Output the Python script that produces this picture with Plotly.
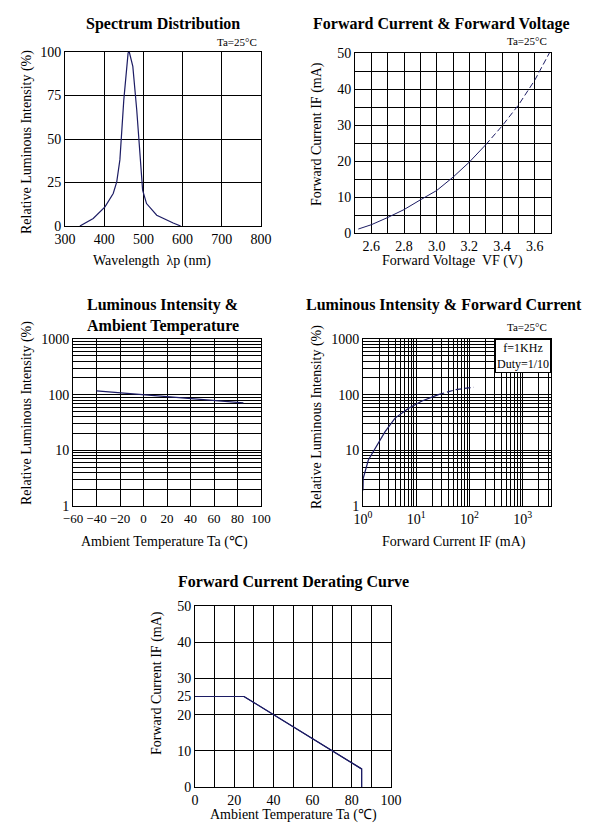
import plotly.graph_objects as go

W, H = 607, 824
OFF = 8  # page body margin offset of the plot div

# ---------------- data ----------------
spec_wl = [338, 372, 402, 423, 432, 440, 450, 461, 464, 473, 483, 491, 498, 508, 534, 576, 595]
spec_int = [0, 4.3, 11, 18.7, 25.4, 38, 72.5, 99.5, 100, 91.7, 66.7, 39.8, 20.6, 12.9, 6.2, 1.7, 0]

vf_solid = [2.52, 2.6, 2.7, 2.8, 2.9, 3.0, 3.1, 3.2, 3.3]
if_solid = [1.1, 2.3, 4.3, 6.5, 9.2, 11.8, 15.5, 19.7, 24.5]
vf_dash = [3.3, 3.4, 3.5, 3.6, 3.69]
if_dash = [24.5, 29.7, 35.5, 42.4, 50]

temp_c = [-40, -20, 0, 20, 40, 60, 85]
li_temp = [117, 108, 100, 93, 84, 78, 71]

if_ma_solid = [1.0, 1.01, 1.26, 1.68, 2.6, 4.0, 7.2, 12.8, 26]
li_if_solid = [1.9, 3.15, 6.7, 10.9, 21.7, 38, 57, 77, 100]
if_ma_dash = [26, 55, 120]
li_if_dash = [100, 123, 136]

derate_t = [0, 25, 85, 85]
derate_if = [25, 25, 5, 0]

log_ticks = [1, 10, 100, 1000]
log_x_text = ["10<sup>0</sup>", "10<sup>1</sup>", "10<sup>2</sup>", "10<sup>3</sup>"]
log_y_text = ["1", "10", "100", "1000"]
derate_yticks = [0, 10, 20, 25, 30, 40, 50]

# ---------------- style ----------------
FONT = "Liberation Serif"
LINE = "#1c1c64"
GRID = "black"


def dx(a, b):
    return [(a - OFF) / W, (b - OFF) / W]


def dy(top, bot):
    return [1 - (bot - OFF) / H, 1 - (top - OFF) / H]


fig = go.Figure()

fig.add_trace(go.Scatter(x=spec_wl, y=spec_int, mode="lines", line=dict(color=LINE, width=1.2),
                         xaxis="x", yaxis="y", showlegend=False))
fig.add_trace(go.Scatter(x=vf_solid, y=if_solid, mode="lines", line=dict(color=LINE, width=1),
                         xaxis="x2", yaxis="y2", showlegend=False))
fig.add_trace(go.Scatter(x=vf_dash, y=if_dash, mode="lines", line=dict(color=LINE, width=1, dash="6px,3px"),
                         xaxis="x2", yaxis="y2", showlegend=False))
fig.add_trace(go.Scatter(x=temp_c, y=li_temp, mode="lines", line=dict(color=LINE, width=1.2),
                         xaxis="x3", yaxis="y3", showlegend=False))
fig.add_trace(go.Scatter(x=if_ma_solid, y=li_if_solid, mode="lines", line=dict(color=LINE, width=1.2),
                         xaxis="x4", yaxis="y4", showlegend=False))
fig.add_trace(go.Scatter(x=if_ma_dash, y=li_if_dash, mode="lines", line=dict(color=LINE, width=1.2, dash="6px,3px"),
                         xaxis="x4", yaxis="y4", showlegend=False))
# derating curve: drawn on the grid axis and on the label axis (same scale, coincident)
fig.add_trace(go.Scatter(x=derate_t, y=derate_if, mode="lines", line=dict(color=LINE, width=1.2),
                         xaxis="x5", yaxis="y5", showlegend=False))
fig.add_trace(go.Scatter(x=derate_t, y=derate_if, mode="lines", line=dict(color=LINE, width=1.2),
                         xaxis="x5", yaxis="y6", showlegend=False))

common = dict(showline=True, linecolor="black", linewidth=1, mirror=True, ticks="",
              showgrid=True, gridcolor=GRID, gridwidth=1, zeroline=False, automargin=False,
              tickangle=0, tickfont=dict(family=FONT, size=14, color="black"), fixedrange=True)
minor_log = dict(dtick="D1", showgrid=True, gridcolor=GRID, gridwidth=1, ticks="")

fig.update_layout(
    width=W, height=H, margin=dict(l=0, r=0, t=0, b=0, pad=0, autoexpand=False),
    paper_bgcolor="white", plot_bgcolor="white", showlegend=False,
    font=dict(family=FONT, color="black"),
    # panel 1
    xaxis=dict(common, domain=dx(65, 261), range=[300, 800], dtick=100, anchor="y"),
    yaxis=dict(common, domain=dy(52, 226), range=[0, 100], dtick=25, anchor="x"),
    # panel 2
    xaxis2=dict(common, domain=dx(355, 551), range=[2.5, 3.7], tickvals=[2.6, 2.8, 3.0, 3.2, 3.4, 3.6],
                ticktext=["2.6", "2.8", "3.0", "3.2", "3.4", "3.6"], minor=dict(dtick=0.1, tick0=2.5, showgrid=True,
                gridcolor=GRID, gridwidth=1, ticks=""), anchor="y2"),
    yaxis2=dict(common, domain=dy(53, 233), range=[0, 50], dtick=10,
                minor=dict(dtick=5, showgrid=True, gridcolor=GRID, gridwidth=1, ticks=""), anchor="x2"),
    # panel 3
    xaxis3=dict(common, domain=dx(73, 261), range=[-60, 100], dtick=20, anchor="y3",
                tickfont=dict(family=FONT, size=13, color="black")),
    yaxis3=dict(common, type="log", domain=dy(339, 506), range=[0, 3], tickvals=log_ticks,
                ticktext=log_y_text, minor=minor_log, anchor="x3"),
    # panel 4
    xaxis4=dict(common, type="log", domain=dx(363, 551), range=[0, 3.53], tickvals=log_ticks,
                ticktext=log_x_text, minor=minor_log, anchor="y4"),
    yaxis4=dict(common, type="log", domain=dy(339, 506), range=[0, 3], tickvals=log_ticks,
                ticktext=log_y_text, minor=minor_log, anchor="x4"),
    # panel 5 (y5 = grid every 10, y6 = tick labels incl. 25)
    xaxis5=dict(common, domain=dx(195, 391), range=[0, 100], tickvals=[0, 20, 40, 60, 80, 100],
                minor=dict(dtick=10, showgrid=True, gridcolor=GRID, gridwidth=1, ticks=""), anchor="y5"),
    yaxis5=dict(common, domain=dy(606, 787), range=[0, 50], dtick=10, showticklabels=False, anchor="x5"),
    yaxis6=dict(common, domain=dy(606, 787), range=[0, 50], tickvals=derate_yticks, showgrid=False,
                overlaying="y5", anchor="x5", side="left"),
)


def ann(text, px, py, size=14, bold=False, angle=0, xanchor="center", **kw):
    fig.add_annotation(text=f"<b>{text}</b>" if bold else text, x=(px - OFF) / W, y=1 - (py - OFF) / H,
                       xref="paper", yref="paper", showarrow=False, xanchor=xanchor, yanchor="middle",
                       textangle=angle, font=dict(family=FONT, size=size, color="black"), **kw)


# titles
ann("Spectrum Distribution", 162.5, 24, size=16, bold=True)
ann("Forward Current &amp; Forward Voltage", 441, 24, size=16, bold=True)
ann("Luminous Intensity &amp;", 162.5, 305, size=16, bold=True)
ann("Ambient Temperature", 162.5, 326, size=16, bold=True)
ann("Luminous Intensity &amp; Forward Current", 444, 305, size=16, bold=True)
ann("Forward Current Derating Curve", 293, 582, size=16, bold=True)

# Ta notes
ann("Ta=25°C", 259, 42, size=11, xanchor="right")
ann("Ta=25°C", 549, 41, size=11, xanchor="right")
ann("Ta=25°C", 549, 327, size=11, xanchor="right")

# axis titles
ann("Wavelength  λp (nm)", 152, 261)
ann("Relative Luminous Intensity (%)", 27, 142, angle=-90)
ann("Forward Voltage  VF (V)", 452, 261)
ann("Forward Current IF (mA)", 317, 134, angle=-90)
ann("Ambient Temperature Ta (℃)", 164, 542)
ann("Relative Luminous Intensity (%)", 27, 413, angle=-90)
ann("Forward Current IF (mA)", 454, 542)
ann("Relative Luminous Intensity (%)", 317, 417, angle=-90)
ann("Ambient Temperature Ta (℃)", 293, 815)
ann("Forward Current IF (mA)", 157, 683, angle=-90)

# condition box in panel 4
fig.add_annotation(text="f=1KHz<br>Duty=1/10", xref="x4 domain", yref="y4 domain", x=1, y=1,
                   xanchor="right", yanchor="top", showarrow=False, align="center",
                   font=dict(family=FONT, size=12, color="black"), bgcolor="white",
                   bordercolor="black", borderwidth=1, borderpad=1)

fig.write_html("out.html")
